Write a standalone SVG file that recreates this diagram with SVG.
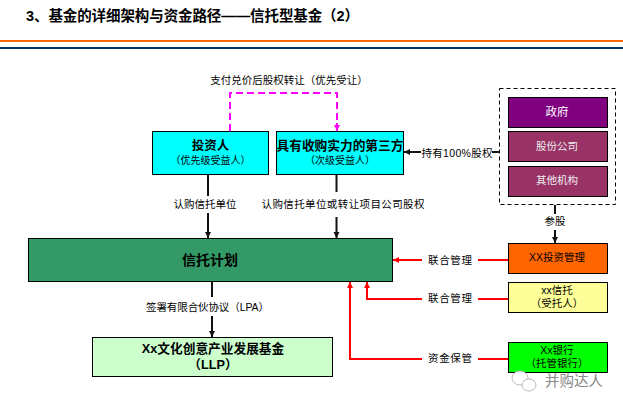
<svg xmlns="http://www.w3.org/2000/svg" width="623" height="409" viewBox="0 0 623 409">
<style>
text{font-family:"Liberation Sans","Noto Sans CJK SC",sans-serif;text-anchor:middle;font-size:10.500px;fill:#000}
.b{font-weight:bold}
.n{stroke:#000;stroke-width:1}
.k{fill:none;stroke:#111;stroke-width:2}
.r{fill:none;stroke:#f00;stroke-width:2}
.p{fill:none;stroke:#f0f;stroke-width:2;stroke-dasharray:7 4}
.w{fill:#eee}
</style>
<defs>
<marker id="ak" markerUnits="userSpaceOnUse" markerWidth="7" markerHeight="7" refX="6" refY="3" orient="auto"><path d="M0 0L6 3L0 6Z" fill="#111"/></marker>
<marker id="ar" markerUnits="userSpaceOnUse" markerWidth="7" markerHeight="7" refX="6" refY="3" orient="auto"><path d="M0 0L6 3L0 6Z" fill="#f00"/></marker>
<marker id="ap" markerUnits="userSpaceOnUse" markerWidth="7" markerHeight="7" refX="6" refY="3" orient="auto"><path d="M0 0L6 3L0 6Z" fill="#f0f"/></marker>
</defs>
<g id="header">
<text x="26" y="21" class="b" style="text-anchor:start;font-size:14.500px" textLength="333">3、基金的详细架构与资金路径——信托型基金（2）</text>
<rect x="0" y="40" width="623" height="2" fill="#f60"/>
<rect x="0" y="47" width="623" height="2" fill="#036"/>
</g>
<g id="connectors">
<path class="p" d="M230 131V93H337V121"/><path d="M337 123V131" stroke="#f0f" stroke-width="2" marker-end="url(#ap)"/>
<path class="k" d="M208 175V196M208 213V238" marker-end="url(#ak)"/>
<path class="k" d="M336.500 175V192M336.500 217V238" marker-end="url(#ak)"/>
<path class="k" d="M499 152H492M421 152H404" marker-end="url(#ak)"/>
<path class="k" d="M555 205V214M555 230V243" marker-end="url(#ak)"/>
<path class="k" d="M212 282V297M212 316V337" marker-end="url(#ak)"/>
<path class="r" d="M508 260H478M422 260H393" marker-end="url(#ar)"/>
<path class="r" d="M508 299H478M422 299H367V282" marker-end="url(#ar)"/>
<path class="r" d="M508 359H478M422 359H350V282" marker-end="url(#ar)"/>
</g>
<g id="label-top"><text x="289" y="84">支付兑价后股权转让（优先受让）</text></g>
<g id="label-sub1"><text x="205" y="208">认购信托单位</text></g>
<g id="label-sub2"><text x="343" y="208" textLength="163">认购信托单位或转让项目公司股权</text></g>
<g id="label-hold"><text x="457" y="157" textLength="71">持有100%股权</text></g>
<g id="label-join"><text x="555" y="225">参股</text></g>
<g id="label-lpa"><text x="207.500" y="311" textLength="123">签署有限合伙协议（LPA）</text></g>
<g id="label-m1"><text x="450" y="264" textLength="44">联合管理</text></g>
<g id="label-m2"><text x="450" y="302" textLength="44">联合管理</text></g>
<g id="label-m3"><text x="450" y="362" textLength="44">资金保管</text></g>
<g id="investor"><rect class="n" x="152.500" y="131.500" width="116" height="43" fill="#0ff"/>
<text x="210.500" y="149.500" class="b" style="font-size:12.500px">投资人</text><text x="210.500" y="164" style="font-size:10px">（优先级受益人）</text></g>
<g id="third-party"><rect class="n" x="276.500" y="131.500" width="127" height="43" fill="#0ff"/>
<text x="340" y="149.500" class="b" style="font-size:12.700px">具有收购实力的第三方</text><text x="340" y="164" style="font-size:10px">（次级受益人）</text></g>
<g id="trust"><rect class="n" x="28.500" y="238.500" width="364" height="43" fill="#396"/>
<text x="210" y="265" class="b" style="font-size:14px">信托计划</text></g>
<g id="fund"><rect class="n" x="92.500" y="337.500" width="240" height="39" fill="#cfc"/>
<text x="213" y="352.500" class="b" style="font-size:12.700px">Xx文化创意产业发展基金</text><text x="213" y="369" class="b" style="font-size:12.700px">（LLP）</text></g>
<g id="shareholders"><rect x="499.500" y="88.500" width="116" height="116" fill="none" stroke="#000" stroke-dasharray="4 3"/></g>
<g id="gov"><rect class="n" x="508.500" y="97.500" width="99" height="30" fill="#800080"/><text x="557" y="115.500" style="font-size:11.500px;fill:#fff">政府</text></g>
<g id="company"><rect class="n" x="508.500" y="131.500" width="99" height="30" fill="#936"/><text x="557" y="150" class="w">股份公司</text></g>
<g id="other"><rect class="n" x="508.500" y="166.500" width="99" height="30" fill="#936"/><text x="557" y="184" class="w">其他机构</text></g>
<g id="manager"><rect class="n" x="508.500" y="243.500" width="99" height="30" fill="#f60"/><text x="557" y="261">XX投资管理</text></g>
<g id="trustee"><rect class="n" x="508.500" y="282.500" width="99" height="30" fill="#ff9"/><text x="557" y="294">xx信托</text><text x="557" y="307">（受托人）</text></g>
<g id="bank"><rect class="n" x="508.500" y="342.500" width="99" height="30" fill="#0f0"/><text x="557" y="354">Xx银行</text><text x="557" y="367">（托管银行）</text></g>
<g id="watermark"><ellipse cx="520" cy="378" rx="8" ry="7" fill="#fff" stroke="#bbb"/><ellipse cx="529" cy="385" rx="7" ry="6" fill="#fff" stroke="#bbb"/><text x="574" y="386" style="font-size:14.500px;fill:#888">并购达人</text></g>
</svg>
